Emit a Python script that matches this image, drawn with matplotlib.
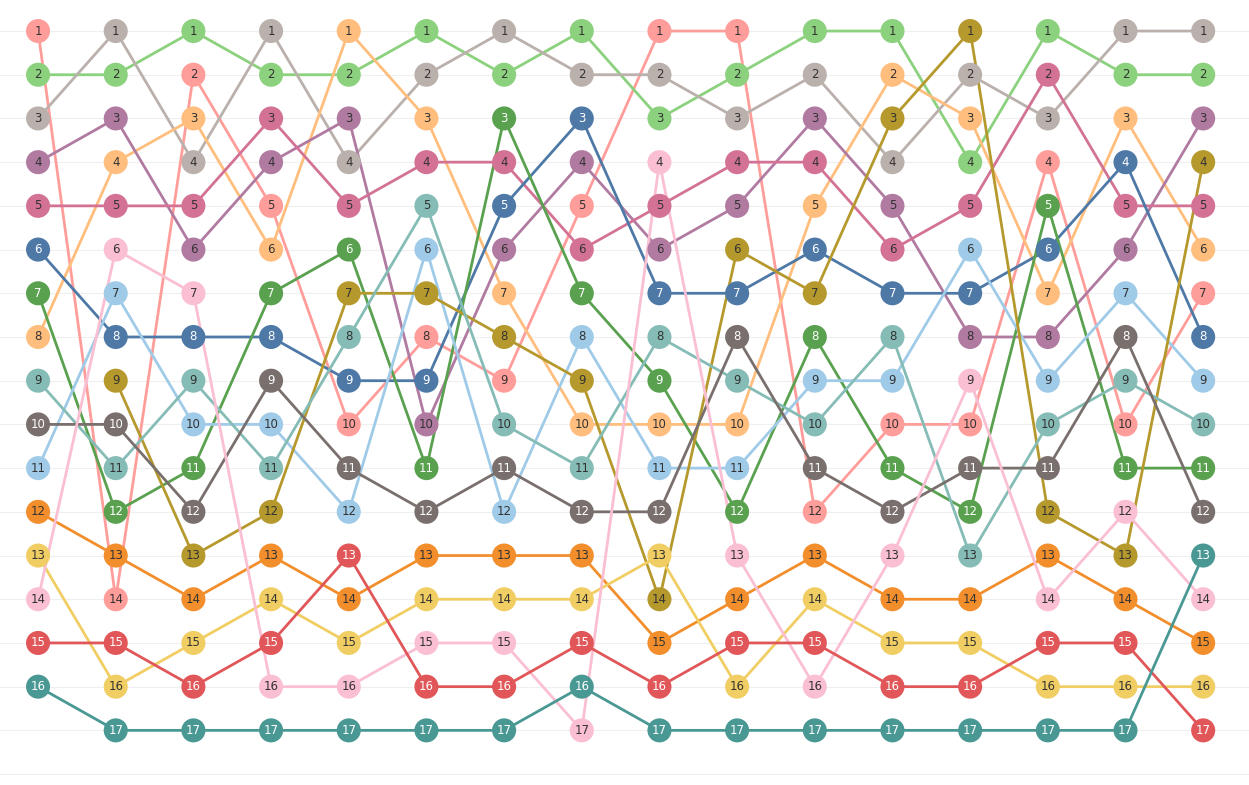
import matplotlib
matplotlib.use("Agg")
import matplotlib.pyplot as plt
import matplotlib.colors as mc

periods = list(range(16))
series = {
    "#FF9D9A": [1,14,2,5,10,8,9,5,1,1,12,10,10,4,10,7],
    "#8CD17D": [2,2,1,2,2,1,2,1,3,2,1,1,4,1,2,2],
    "#BAB0AC": [3,1,4,1,4,2,1,2,2,3,2,4,2,3,1,1],
    "#FFBE7D": [8,4,3,6,1,3,7,10,10,10,5,2,3,7,3,6],
    "#B07AA1": [4,3,6,4,3,10,6,4,6,5,3,5,8,8,6,3],
    "#D37295": [5,5,5,3,5,4,4,6,5,4,4,6,5,2,5,5],
    "#4E79A7": [6,8,8,8,9,9,5,3,7,7,6,7,7,6,4,8],
    "#59A14F": [7,12,11,7,6,11,3,7,9,12,8,11,12,5,11,11],
    "#A0CBE8": [11,7,10,10,12,6,12,8,11,11,9,9,6,9,7,9],
    "#B6992D": [None,9,13,12,7,7,8,9,14,6,7,3,1,12,13,4],
    "#86BCB6": [9,11,9,11,8,5,10,11,8,9,10,8,13,10,9,10],
    "#79706E": [10,10,12,9,11,12,11,12,12,8,11,12,11,11,8,12],
    "#F28E2B": [12,13,14,13,14,13,13,13,15,14,13,14,14,13,14,15],
    "#F1CE63": [13,16,15,14,15,14,14,14,13,16,14,15,15,16,16,16],
    "#FABFD2": [14,6,7,16,16,15,15,17,4,13,16,13,9,14,12,14],
    "#E15759": [15,15,16,15,13,16,16,15,16,15,15,16,16,15,15,17],
    "#499894": [16,17,17,17,17,17,17,16,17,17,17,17,17,17,17,13],
}

fig = plt.figure(figsize=(12.49, 7.85), dpi=100)
ax = fig.add_axes([0, 0, 1, 1])
for r in range(1, 19):
    ax.axhline(r, color="#efefef", lw=0.8, zorder=0)

for col, ranks in series.items():
    xs = [p for p, r in zip(periods, ranks) if r is not None]
    ys = [r for r in ranks if r is not None]
    ax.plot(xs, ys, color=col, lw=2, zorder=1)
    ax.scatter(xs, ys, s=300, color=col, zorder=2, edgecolors="none")
    rgb = mc.to_rgb(col)
    lum = 0.299*rgb[0] + 0.587*rgb[1] + 0.114*rgb[2]
    tc = "white" if lum < 0.55 else "#333333"
    for x, y in zip(xs, ys):
        ax.text(x, y, str(y), ha="center", va="center", fontsize=8.5, color=tc, zorder=3)

ax.set_xlim(-0.49, 15.59)
ax.set_ylim(18.25, 0.29)
ax.axis("off")
fig.savefig("out.png", dpi=100, facecolor="white")
